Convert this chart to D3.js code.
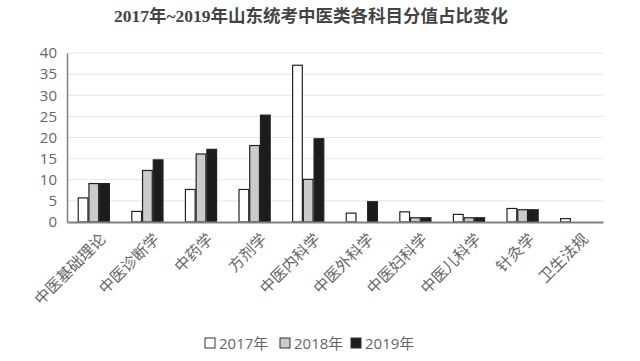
<!DOCTYPE html>
<html lang="zh">
<head>
  <meta charset="UTF-8">
  <title>chart</title>
  <script src="https://cdn.jsdelivr.net/npm/d3@7"></script>
  <style>
    body { margin: 0; background: #fff; }
    text { font-family: "Open Sans", "Noto Sans CJK SC", sans-serif; }
  </style>
</head>
<body>
  <svg width="640" height="361" id="mainsvg"></svg>
  <script>
    const categories = ['中医基础理论', '中医诊断学', '中药学', '方剂学', '中医内科学',
      '中医外科学', '中医妇科学', '中医儿科学', '针灸学', '卫生法规'];
    const years = ['2017年', '2018年', '2019年'];
    const v2017 = [5.7, 2.5, 7.7, 7.7, 37.1, 2.1, 2.4, 1.8, 3.2, 0.8];
    const v2018 = [9.1, 12.2, 16.1, 18.1, 10.1, null, 1.0, 1.0, 2.9, null];
    const v2019 = [9.1, 14.7, 17.2, 25.3, 19.7, 4.8, 1.0, 1.0, 2.9, null];
    const yTicks = [0, 5, 10, 15, 20, 25, 30, 35, 40];
    const fills = ['#ffffff', '#cbcbcb', '#1c1c1c'];

    const series = [v2017, v2018, v2019];
    const svg = d3.select('#mainsvg');
    const margin = {top: 53, left: 67, right: 37, bottom: 139};
    const width = 640, height = 361;
    const innerW = width - margin.left - margin.right;
    const innerH = height - margin.top - margin.bottom;

    const g = svg.append('g').attr('transform', `translate(${margin.left},${margin.top})`);

    const x = d3.scaleBand().domain(categories).range([0, innerW])
      .paddingInner(0.4).paddingOuter(0.2);
    const xs = d3.scaleBand().domain(years).range([0, x.bandwidth()]);
    const y = d3.scaleLinear().domain([0, 40]).range([innerH, 0]);

    // grid
    g.append('g').selectAll('line').data(yTicks.slice(1)).join('line')
      .attr('x1', 0).attr('x2', innerW)
      .attr('y1', d => y(d)).attr('y2', d => y(d))
      .attr('stroke', '#e4e4e4').attr('stroke-width', 1);

    // y axis
    const yAxis = g.append('g').call(d3.axisLeft(y).tickValues(yTicks).tickSize(0).tickPadding(10));
    yAxis.select('.domain').attr('stroke', '#808080').attr('stroke-width', 1.5);
    yAxis.selectAll('text').attr('font-size', 15).attr('fill', '#666')
      .style('font-family', '"Open Sans", sans-serif');

    // bars
    series.forEach((vals, si) => {
      g.append('g').selectAll('rect')
        .data(categories.map((c, i) => ({c, v: vals[i]})).filter(d => d.v != null))
        .join('rect')
        .attr('x', d => x(d.c) + xs(years[si]) + 0.5)
        .attr('width', xs.bandwidth() - 1)
        .attr('y', d => y(d.v))
        .attr('height', d => innerH - y(d.v))
        .attr('fill', fills[si])
        .attr('stroke', '#222').attr('stroke-width', 1.2);
    });

    // x axis
    const xAxis = g.append('g').attr('transform', `translate(0,${innerH})`)
      .call(d3.axisBottom(x).tickSize(0).tickPadding(0));
    xAxis.select('.domain').attr('stroke', '#808080').attr('stroke-width', 2);
    xAxis.selectAll('text')
      .attr('font-size', 15.5).attr('fill', '#666')
      .attr('text-anchor', 'end')
      .attr('dy', 0).attr('y', 0)
      .attr('transform', 'translate(13,18) rotate(-45)');

    // title
    svg.append('text').attr('x', 311).attr('y', 22)
      .attr('text-anchor', 'middle')
      .attr('font-size', 17.5).attr('font-weight', 'bold').attr('fill', '#444')
      .style('font-family', '"Liberation Serif", "Noto Sans CJK SC", serif')
      .text('2017年~2019年山东统考中医类各科目分值占比变化');

    // legend
    const legendX = [205, 280, 351];
    const lg = svg.append('g');
    years.forEach((yr, i) => {
      lg.append('rect').attr('x', legendX[i]).attr('y', 338).attr('width', 10).attr('height', 10)
        .attr('fill', fills[i]).attr('stroke', '#333').attr('stroke-width', 1);
      lg.append('text').attr('x', legendX[i] + 14).attr('y', 349)
        .attr('font-size', 15).attr('fill', '#666').text(yr);
    });
  </script>
</body>
</html>
